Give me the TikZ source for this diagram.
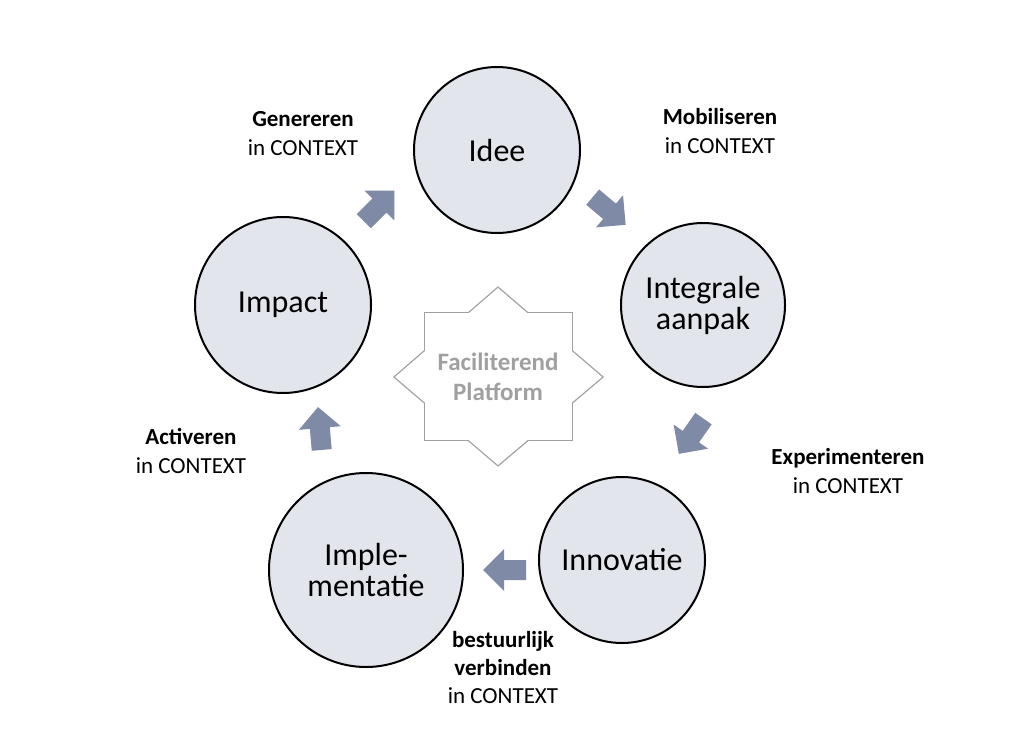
\documentclass[tikz,border=0pt]{standalone}
\usepackage{fontspec}
\setmainfont{Carlito}
\begin{document}
\begin{tikzpicture}[x=1pt,y=-1pt,
 circ/.style={circle,draw=black,line width=2pt,fill=cfill,align=center,font=\fontsize{32}{31}\selectfont,inner sep=0pt},
 lab/.style={align=center,font=\fontsize{23}{29}\selectfont},
 pics/barrow/.style={code={\fill[arr] (-20,-10)--(2,-10)--(2,-21)--(23,0)--(2,21)--(2,10)--(-20,10)--cycle;}}]
\definecolor{cfill}{HTML}{E3E5ED}
\definecolor{arr}{HTML}{7E8AA6}
\definecolor{star}{HTML}{A0A0A0}
\useasboundingbox (0,0) rectangle (1024,746);
\fill[white] (0,0) rectangle (1024,746);
% star
\draw[star,line width=2.6pt] (425,313) rectangle (572,440);
\draw[star,line width=2.6pt] (498,288)--(602,377)--(498,465)--(395,377)--cycle;
\fill[white] (425,313) rectangle (572,440);
\fill[white] (498,288)--(602,377)--(498,465)--(395,377)--cycle;
\node[star,font=\bfseries\fontsize{25}{30}\selectfont,align=center] (fp) at (498,377) {Faciliterend\\Platform};
% circles
\node[circ,minimum size=166pt] (idee) at (497,150) {Idee};
\node[circ,minimum size=164pt] (int) at (703,305) {Integrale\\aanpak};
\node[circ,minimum size=166pt] (inn) at (622,560) {Innovatie};
\node[circ,minimum size=194pt] (imp) at (366,570) {Imple-\\mentatie};
\node[circ,minimum size=176pt] (impact) at (283,305) {Impact};
% arrows
\pic[rotate=45] at (378,207) {barrow};
\pic[rotate=-40] at (608,210) {barrow};
\pic[rotate=-125] at (692,435) {barrow};
\pic[rotate=180] at (506,570) {barrow};
\pic[rotate=95] at (320,430) {barrow};
% labels
\node[lab] (l1) at (303,134) {\textbf{Genereren}\\in CONTEXT};
\node[lab] (l2) at (720,131) {\textbf{Mobiliseren}\\in CONTEXT};
\node[lab] (l3) at (848,471) {\textbf{Experimenteren}\\in CONTEXT};
\node[lab] (l4) at (191,451) {\textbf{Activeren}\\in CONTEXT};
\node[lab,font=\fontsize{23}{28}\selectfont] (l5) at (503,668) {\textbf{bestuurlijk}\\\textbf{verbinden}\\in CONTEXT};
\end{tikzpicture}
\end{document}
